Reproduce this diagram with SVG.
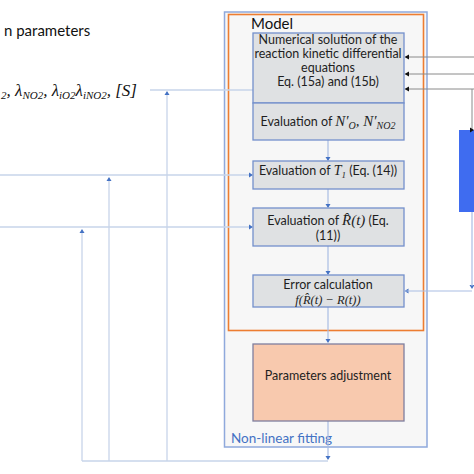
<svg xmlns="http://www.w3.org/2000/svg" width="474" height="474" viewBox="0 0 474 474">
<defs>
<style>
.t{font-family:Lato,"Liberation Sans",sans-serif;font-size:12.5px;fill:#1e1e1e;text-anchor:middle}
.m{font-family:"Liberation Serif",serif;font-style:italic}
.fb{stroke:#c8d5ea;stroke-width:1.3;fill:none}
.vc{stroke:#a9bde3;stroke-width:1.2;fill:none}
.rk{stroke:#8a8a8a;stroke-width:1;fill:none}
.box{fill:#dfe1e3;stroke:#7390cc;stroke-width:1.3}
</style>
</defs>
<rect width="474" height="474" fill="#fff"/>
<g id="labels">
<text x="4" y="36" style="font-family:Lato,'Liberation Sans',sans-serif;font-size:15px;fill:#111">n parameters</text>
<text x="1" y="96" class="m" style="font-size:17px;fill:#111"><tspan font-size="11" dy="3">2</tspan><tspan dy="-3">, λ</tspan><tspan font-size="11" dy="3">NO2</tspan><tspan dy="-3">, λ</tspan><tspan font-size="11" dy="3">iO2</tspan><tspan dy="-3">λ</tspan><tspan font-size="11" dy="3">iNO2</tspan><tspan dy="-3">, [S]</tspan></text>
</g>
<g id="nonlinear-fitting">
<rect x="224.5" y="12" width="202.5" height="435" fill="#f7f7f7" stroke="#8fa9dc" stroke-width="1.5"/>
<text x="231" y="443" style="font-family:Lato,'Liberation Sans',sans-serif;font-size:13.5px;fill:#4472c4">Non-linear fitting</text>
</g>
<g id="model">
<rect x="228.5" y="14.5" width="195" height="316" fill="none" stroke="#ed7d31" stroke-width="1.6"/>
<text x="251" y="29" style="font-family:Lato,'Liberation Sans',sans-serif;font-size:15px;fill:#111">Model</text>
</g>
<g id="blue-block">
<rect x="459" y="130" width="16" height="82" fill="#3f6cf0"/>
</g>
<g id="connectors">
<path class="fb" d="M150,90H258 M0,175H251 M0,227H251 M82,461H328 M82,461V230 M109,461V178 M167,461V92"/>
<path class="vc" d="M328,140V160 M328,189V207 M328,246V274 M328,307V342 M328,421V459"/>
<g fill="#4472c4">
<path d="M328,161l-2.5,-4h5z M328,208l-2.5,-4h5z M328,275l-2.5,-4h5z M328,343l-2.5,-4h5z M328,460l-2.5,-4h5z"/>
<path d="M260,90l-4,-2.5v5z M253,175l-4,-2.5v5z M253,227l-4,-2.5v5z"/>
<path d="M167,91l-2.5,4h5z M109,177l-2.5,4h5z M82,229l-2.5,4h5z"/>
<path d="M404.5,291l4,-2.5v5z M472,289l-2.5,-4h5z"/>
</g>
<path class="rk" d="M474,57H406 M474,74H406 M474,89H406 M472,89V130"/>
<path d="M404.5,57l4.5,-2.5v5z M404.5,74l4.5,-2.5v5z M404.5,89l4.5,-2.5v5z M474,130l-4,-2.5v5z" fill="#111"/>
<path class="vc" d="M472,212V286 M472,291H405"/>
</g>
<g id="numerical-solution">
<rect class="box" x="253" y="33" width="151" height="70"/>
<text class="t" x="328" y="44">Numerical solution of the</text>
<text class="t" x="328" y="58">reaction kinetic differential</text>
<text class="t" x="328" y="72">equations</text>
<text class="t" x="328" y="86">Eq. (15a) and (15b)</text>
</g>
<g id="evaluation-n">
<rect class="box" x="253" y="103" width="151" height="37"/>
<text class="t" x="328" y="126">Evaluation of <tspan class="m" font-size="15">N′</tspan><tspan class="m" font-size="10" dy="3">O</tspan><tspan class="m" font-size="15" dy="-3">, N′</tspan><tspan class="m" font-size="10" dy="3">NO2</tspan></text>
</g>
<g id="evaluation-t1">
<rect class="box" x="253" y="161" width="151" height="28"/>
<text class="t" x="328" y="175">Evaluation of <tspan class="m" font-size="14">T</tspan><tspan class="m" font-size="9" dy="3">1</tspan><tspan dy="-3"> (Eq. (14))</tspan></text>
</g>
<g id="evaluation-r">
<rect class="box" x="253" y="208" width="151" height="38"/>
<text class="t" x="328" y="225">Evaluation of <tspan class="m" font-size="15">R̂(t)</tspan> (Eq.</text>
<text class="t" x="328" y="240">(11))</text>
</g>
<g id="error-calculation">
<rect class="box" x="253" y="275" width="151" height="32"/>
<text class="t" x="328" y="289">Error calculation</text>
<text class="t m" x="328" y="304" font-size="16">f(R̂(t) − R(t))</text>
</g>
<g id="parameters-adjustment">
<rect x="253" y="344" width="151" height="77" fill="#f8c9ae" stroke="#7f7f9f" stroke-width="1.3"/>
<text class="t" x="328" y="380">Parameters adjustment</text>
</g>
</svg>
